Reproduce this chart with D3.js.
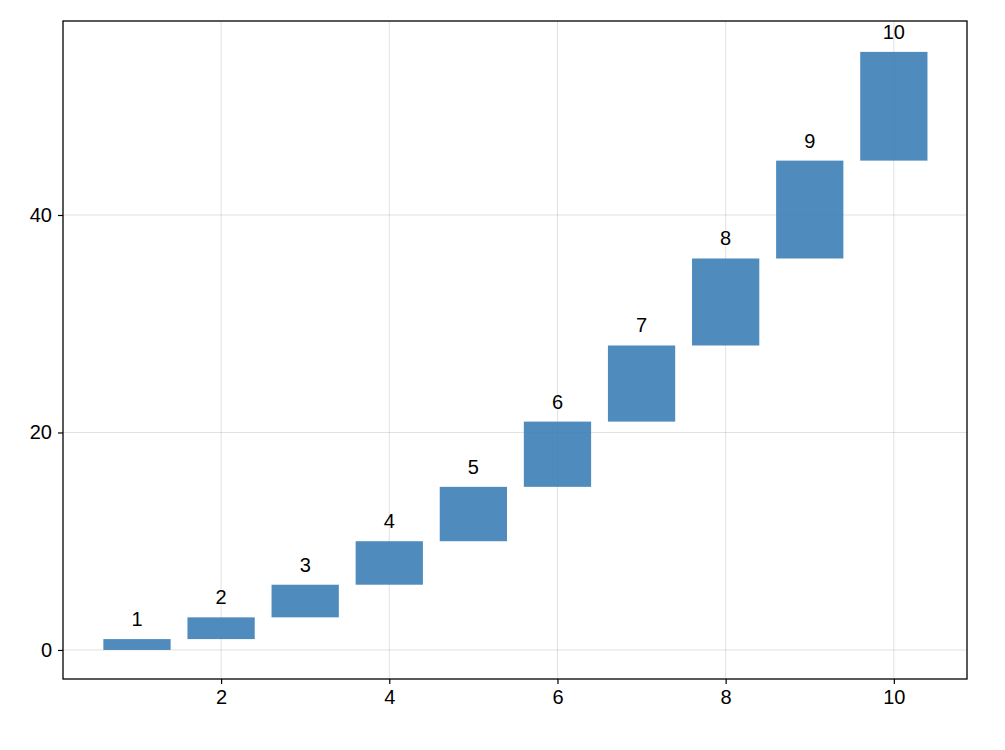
<!DOCTYPE html>
<html><head><meta charset="utf-8">
<script src="https://cdn.jsdelivr.net/npm/d3@7"></script>
<style>body{margin:0;background:#fff}svg{display:block}text{font-family:"Liberation Sans",Arial,sans-serif}</style>
</head><body>
<script>
const categories = [1,2,3,4,5,6,7,8,9,10];
const values = [1,2,3,4,5,6,7,8,9,10];
const xTicks = [2,4,6,8,10];
const yTicks = [0,20,40];

const W = 1005, H = 750;
const m = {left:63, right:967, top:21, bottom:679};
const svg = d3.select("body").append("svg").attr("width",W).attr("height",H);

const x = d3.scaleLinear().domain([0.12,10.87]).range([m.left,m.right]);
const y = d3.scaleLinear().domain([-2.67,57.84]).range([m.bottom,m.top]);

// grid
svg.append("g").selectAll("line").data(xTicks).join("line")
  .attr("x1",d=>x(d)).attr("x2",d=>x(d)).attr("y1",m.top).attr("y2",m.bottom)
  .attr("stroke","rgba(0,0,0,0.12)").attr("stroke-width",1);
svg.append("g").selectAll("line").data(yTicks).join("line")
  .attr("y1",d=>y(d)).attr("y2",d=>y(d)).attr("x1",m.left).attr("x2",m.right)
  .attr("stroke","rgba(0,0,0,0.12)").attr("stroke-width",1);

// waterfall data
let cum = 0;
const bars = values.map((v,i)=>{const s=cum; cum+=v; return {c:categories[i], v, from:s, to:cum};});

svg.append("g").selectAll("rect").data(bars).join("rect")
  .attr("x",d=>x(d.c-0.4)).attr("width",d=>x(d.c+0.4)-x(d.c-0.4))
  .attr("y",d=>y(d.to)).attr("height",d=>y(d.from)-y(d.to))
  .attr("fill","rgb(60,127,182)").attr("fill-opacity",0.9);

svg.append("g").selectAll("text").data(bars).join("text")
  .attr("x",d=>x(d.c)).attr("y",d=>y(d.to)-13)
  .attr("text-anchor","middle").attr("font-size",20).attr("fill","#000")
  .text(d=>d.v);

// axes
const xAxis = d3.axisBottom(x).tickValues(xTicks).tickSize(5).tickPadding(6).tickFormat(d3.format("d"));
const yAxis = d3.axisLeft(y).tickValues(yTicks).tickSize(5).tickPadding(6).tickFormat(d3.format("d"));
const gx = svg.append("g").attr("transform",`translate(0,${m.bottom})`).call(xAxis);
const gy = svg.append("g").attr("transform",`translate(${m.left},0)`).call(yAxis);
[gx,gy].forEach(g=>{
  g.select(".domain").remove();
  g.selectAll("line").attr("stroke","#000").attr("stroke-width",1.2);
  g.selectAll("text").attr("font-size",20).attr("fill","#000").style("font-family","'Liberation Sans',Arial,sans-serif");
});
// frame
svg.append("rect").attr("x",m.left).attr("y",m.top).attr("width",m.right-m.left).attr("height",m.bottom-m.top)
  .attr("fill","none").attr("stroke","#000").attr("stroke-width",1.3);
</script>
</body></html>
